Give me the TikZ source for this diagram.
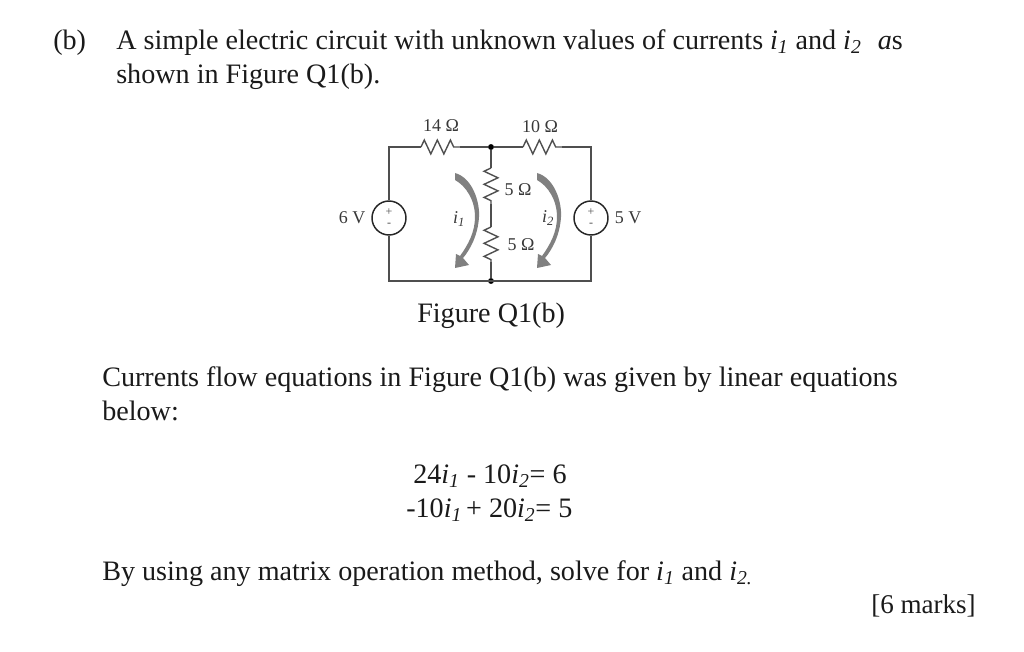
\documentclass[tikz,border=0pt]{standalone}
\usepackage{fontspec}
\setmainfont{Liberation Serif}
\usetikzlibrary{decorations.pathmorphing}
\definecolor{ink}{HTML}{1A1A1A}
\definecolor{wirecol}{HTML}{4F4F4F}
\definecolor{lblcol}{HTML}{383838}
\definecolor{arrowcol}{HTML}{808080}
\newcommand{\ione}{\textit{i\textsubscript{1}}}
\newcommand{\itwo}{\textit{i\textsubscript{2}}}
\tikzset{
  line/.style={font=\fontsize{21.1}{25}\selectfont, text=ink, anchor=base west, inner sep=0pt},
  lbl/.style={font=\fontsize{13.5}{16}\selectfont, text=lblcol, inner sep=0pt},
  wire/.style={draw=wirecol, line width=1.05pt},
  res/.style={wire, decorate, decoration={zigzag, segment length=9.8pt, amplitude=5.2pt}},
  vres/.style={wire, decorate, decoration={zigzag, segment length=9.8pt, amplitude=5.2pt, mirror}},
  src/.style={circle, draw=black!85, line width=1.1pt, fill=white, minimum size=25.5pt, inner sep=0pt},
  sign/.style={font=\fontsize{9}{10}\selectfont, text=wirecol, inner sep=0pt},
  dot/.style={circle, fill=black, inner sep=0pt, minimum size=4.4pt},
  bent/.style={fill=arrowcol, draw=none}
}
\begin{document}
\begin{tikzpicture}[x=0.75pt, y=-0.75pt]
  \useasboundingbox (0,0) rectangle (1024,652);

  \node[line] (partb) at (53,49.5) {(b)};
  \node[line] (introa) at (116,49.5) {A simple electric circuit with unknown values of currents \ione{} and \itwo{}\hspace{7pt} \textit{a}s};
  \node[line] (introb) at (116,83.5) {shown in Figure Q1(b).};

  % circuit
  \coordinate (tl) at (389,147);
  \coordinate (tr) at (591,147);
  \coordinate (bl) at (389,281);
  \coordinate (br) at (591,281);
  \node[dot] (top) at (491,147) {};
  \node[dot] (bot) at (491,281) {};
  \coordinate (r1a) at (421,147);
  \coordinate (r1b) at (460,147);
  \coordinate (r2a) at (523,147);
  \coordinate (r2b) at (562,147);
  \coordinate (r3a) at (491,168);
  \coordinate (r3b) at (491,204);
  \coordinate (r4a) at (491,227);
  \coordinate (r4b) at (491,262);
  \node[src] (vl) at (389,218) {};
  \node[src] (vr) at (591,218) {};

  \draw[wire] (vl)--(tl)--(r1a);
  \draw[res] (r1a)--(r1b);
  \draw[wire] (r1b)--(top)--(r2a);
  \draw[res] (r2a)--(r2b);
  \draw[wire] (r2b)--(tr)--(vr);
  \draw[wire] (vr)--(br)--(bl)--(vl);
  \draw[wire] (top)--(r3a);
  \draw[vres] (r3a)--(r3b);
  \draw[wire] (r3b)--(r4a);
  \draw[vres] (r4a)--(r4b);
  \draw[wire] (r4b)--(bot);

  \node[sign] (pl) at (389,212) {+};
  \node[sign] (ml) at (389,225) {-};
  \node[sign] (pr) at (591,212) {+};
  \node[sign] (mr) at (591,225) {-};

  \foreach \dx in {0,82}{
    \fill[bent, shift={(\dx,0)}] (455,173) .. controls (473,178) and (480,203) .. (479,217)
      .. controls (478,235) and (470,250) .. (463,258)
      -- (469,265) -- (455,268) -- (456,254) -- (460,256)
      .. controls (468,245) and (475,232) .. (475,217)
      .. controls (475,200) and (466,186) .. (455,180) -- cycle;
  }

  \node[lbl] (l14) at (441,126) {14 Ω};
  \node[lbl] (l10) at (540,127) {10 Ω};
  \node[lbl] (l5a) at (518,190) {5 Ω};
  \node[lbl] (l5b) at (521,245) {5 Ω};
  \node[lbl] (l6v) at (352,218) {6 V};
  \node[lbl] (l5v) at (628,218) {5 V};
  \node[lbl] (li1) at (459,219) {\ione};
  \node[lbl] (li2) at (548,218) {\itwo};

  \node[line] (figcap) at (417,322.5) {Figure Q1(b)};

  \node[line] (curra) at (102,386.5) {Currents flow equations in Figure Q1(b) was given by linear equations};
  \node[line] (currb) at (102,420.5) {below:};

  \node[line] (eqa) at (413,483.5) {24\ione{} - 10\itwo{}= 6};
  \node[line] (eqb) at (406,517.5) {-10\ione{}\hspace{3pt}+ 20\itwo{}= 5};

  \node[line] (solve) at (102,580.5) {By using any matrix operation method, solve for \ione{} and \textit{i\textsubscript{2.}}};
  \node[line, anchor=base east, font=\fontsize{20.3}{25}\selectfont] (marks) at (976,613.5) {[6 marks]};
\end{tikzpicture}
\end{document}
